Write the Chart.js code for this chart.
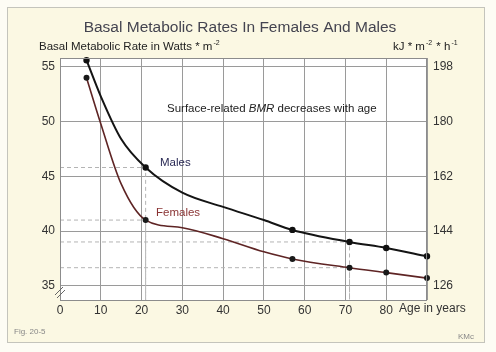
<!DOCTYPE html>
<html>
<head>
<meta charset="utf-8">
<script src="https://cdn.jsdelivr.net/npm/chart.js@4/dist/chart.umd.min.js"></script>
<style>
  body { margin: 0; background: #fdfcf4; }
  canvas { display: block; }
</style>
</head>
<body>
<canvas id="bmrChart" width="496" height="352"></canvas>
<script>
// values (age in years, W per m2)
const maleAges = [6.5, 10, 15, 21, 30, 40, 50, 57, 71, 80, 90];
const maleBMR = [55.6, 52.3, 48.4, 45.8, 43.5, 42.2, 41.0, 40.1, 39.0, 38.45, 37.7];
const femaleAges = [6.5, 10, 15, 21, 30, 40, 50, 57, 71, 80, 90];
const femaleBMR = [54.0, 49.8, 44.3, 41.0, 40.3, 39.3, 38.1, 37.45, 36.65, 36.2, 35.7];
const markedAges = [6.5, 21, 57, 71, 80, 90];

const xTicks = [0, 10, 20, 30, 40, 50, 60, 70, 80, 90];
const wattTicks = [35, 40, 45, 50, 55];
const kjTickLabels = ['126', '144', '162', '180', '198'];

// dashed read-off lines at these ages
const guideAges = [21, 71];

Chart.defaults.font.family = '"Liberation Sans", Arial, sans-serif';

const yMin = 33.7;
const yMax = 55.8;

const toPoints = (ages, vals) => ages.map((a, i) => ({ x: a, y: vals[i] }));
const markRadius = ages => ages.map(a => markedAges.includes(a) ? 2.2 : 0);

function guide(ages, vals, age) {
    const v = vals[ages.indexOf(age)];
    return [{ x: 0, y: v }, { x: age, y: v }, { x: age, y: yMin }];
}

const guideSets = [];
guideAges.forEach(age => {
    [[maleAges, maleBMR], [femaleAges, femaleBMR]].forEach(([a, v]) => {
        guideSets.push({
            data: guide(a, v, age),
            borderColor: '#b4b4b4',
            borderWidth: 1,
            borderDash: [4, 3],
            pointRadius: 0,
            tension: 0,
            order: 3
        });
    });
});

const texts = {
    id: 'texts',
    beforeDraw(chart) {
        const { ctx, chartArea: a } = chart;
        ctx.save();
        ctx.fillStyle = '#fdfcf4';
        ctx.fillRect(0, 0, chart.width, chart.height);
        ctx.fillStyle = '#fbf8e3';
        ctx.fillRect(7, 7, 477, 335);
        ctx.strokeStyle = '#c4c4bc';
        ctx.lineWidth = 1;
        ctx.strokeRect(7.5, 7.5, 477, 335);
        ctx.fillStyle = '#ffffff';
        ctx.fillRect(a.left, a.top, a.right - a.left, a.bottom - a.top);
        ctx.restore();
    },
    afterDraw(chart) {
        const { ctx, chartArea: a } = chart;
        ctx.save();
        ctx.strokeStyle = '#8c8c8c';
        ctx.lineWidth = 1;
        ctx.strokeRect(a.left + 0.5, a.top + 0.5, a.right - a.left - 1, a.bottom - a.top);

        // axis break mark
        ctx.strokeStyle = '#666';
        ctx.beginPath();
        ctx.moveTo(55, 295); ctx.lineTo(63, 287);
        ctx.moveTo(57, 298); ctx.lineTo(65, 290);
        ctx.stroke();

        ctx.textBaseline = 'middle';
        ctx.fillStyle = '#444450';
        ctx.font = '15.5px "Liberation Sans", Arial, sans-serif';
        ctx.textAlign = 'center';
        ctx.fillText('Basal Metabolic Rates In Females And Males', 240, 28);

        ctx.textAlign = 'left';
        ctx.fillStyle = '#222';
        ctx.font = '11.5px "Liberation Sans", Arial, sans-serif';
        let s = 'Basal Metabolic Rate in Watts * m';
        ctx.fillText(s, 39, 47);
        let w = ctx.measureText(s).width;
        ctx.font = '7px "Liberation Sans", Arial, sans-serif';
        ctx.fillText('-2', 39 + w + 1, 43);

        ctx.font = '11.5px "Liberation Sans", Arial, sans-serif';
        let x = 393;
        ctx.fillText('kJ * m', x, 47);
        x += ctx.measureText('kJ * m').width + 1;
        ctx.font = '7px "Liberation Sans", Arial, sans-serif';
        ctx.fillText('-2', x, 43);
        x += ctx.measureText('-2').width + 1;
        ctx.font = '11.5px "Liberation Sans", Arial, sans-serif';
        ctx.fillText(' * h', x, 47);
        x += ctx.measureText(' * h').width + 1;
        ctx.font = '7px "Liberation Sans", Arial, sans-serif';
        ctx.fillText('-1', x, 43);

        ctx.font = '11.5px "Liberation Sans", Arial, sans-serif';
        x = 167;
        ctx.fillText('Surface-related ', x, 109);
        x += ctx.measureText('Surface-related ').width;
        ctx.font = 'italic 11.5px "Liberation Sans", Arial, sans-serif';
        ctx.fillText('BMR', x, 109);
        x += ctx.measureText('BMR').width;
        ctx.font = '11.5px "Liberation Sans", Arial, sans-serif';
        ctx.fillText(' decreases with age', x, 109);

        ctx.fillStyle = '#2a2a55';
        ctx.fillText('Males', 160, 163);
        ctx.fillStyle = '#8a3434';
        ctx.fillText('Females', 156, 213);

        ctx.fillStyle = '#333';
        ctx.font = '12px "Liberation Sans", Arial, sans-serif';
        ctx.fillText('Age in years', 399, 309);

        ctx.fillStyle = '#888';
        ctx.font = '8px "Liberation Sans", Arial, sans-serif';
        ctx.fillText('Fig. 20-5', 14, 332);
        ctx.fillText('KMc', 458, 337);
        ctx.restore();
    }
};

new Chart(document.getElementById('bmrChart'), {
    type: 'line',
    data: {
        datasets: [
            {
                label: 'Males',
                data: toPoints(maleAges, maleBMR),
                borderColor: '#141414',
                borderWidth: 2,
                pointRadius: markRadius(maleAges),
                pointBackgroundColor: '#111',
                pointBorderColor: '#111',
                cubicInterpolationMode: 'monotone',
                clip: false,
                order: 1
            },
            {
                label: 'Females',
                data: toPoints(femaleAges, femaleBMR),
                borderColor: '#5e2424',
                borderWidth: 1.6,
                pointRadius: markRadius(femaleAges),
                pointBackgroundColor: '#1a1a1a',
                pointBorderColor: '#1a1a1a',
                cubicInterpolationMode: 'monotone',
                clip: false,
                order: 1
            },
            ...guideSets
        ]
    },
    options: {
        responsive: false,
        animation: false,
        layout: { padding: { top: 58, left: 0, right: 0, bottom: 0 } },
        plugins: {
            legend: { display: false },
            tooltip: { enabled: false }
        },
        scales: {
            x: {
                type: 'linear',
                min: 0,
                max: 90,
                afterBuildTicks: s => { s.ticks = xTicks.map(v => ({ value: v })); },
                afterFit: s => { s.height = 52; },
                grid: { color: '#9a9a9a', drawTicks: false },
                border: { display: false },
                ticks: {
                    padding: 3,
                    color: '#333',
                    font: { size: 12 },
                    callback: v => v === 90 ? '' : v
                }
            },
            y: {
                min: yMin,
                max: yMax,
                afterBuildTicks: s => { s.ticks = wattTicks.map(v => ({ value: v })); },
                afterFit: s => { s.width = 60; },
                grid: { color: '#9a9a9a', drawTicks: false },
                border: { display: false },
                ticks: { padding: 5, color: '#333', font: { size: 12 } }
            },
            y2: {
                position: 'right',
                min: yMin,
                max: yMax,
                afterBuildTicks: s => { s.ticks = wattTicks.map(v => ({ value: v })); },
                afterFit: s => { s.width = 69; },
                grid: { display: false, drawTicks: false },
                border: { display: false },
                ticks: {
                    padding: 6,
                    color: '#333',
                    font: { size: 12 },
                    callback: (v, i) => kjTickLabels[i]
                }
            }
        }
    },
    plugins: [texts]
});
</script>
</body>
</html>
